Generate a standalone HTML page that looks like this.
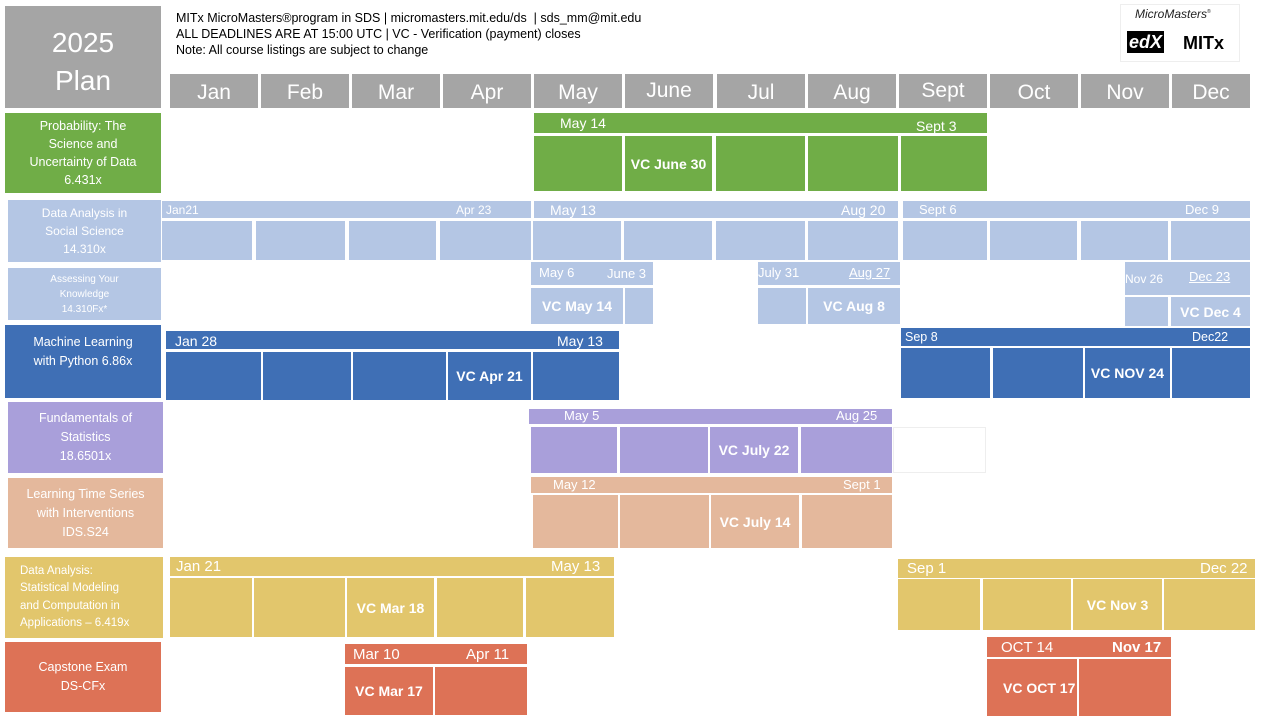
<!DOCTYPE html>
<html><head><meta charset="utf-8"><style>
body{margin:0;width:1280px;height:720px;background:#fff;position:relative;overflow:hidden;font-family:"Liberation Sans",sans-serif;}
div{position:absolute;box-sizing:border-box;}
.m{background:#a5a5a5;color:#fff;font-size:21px;text-align:center;top:74px;height:34px;width:88px;line-height:38px;}
.l{color:#fff;font-size:12.5px;text-align:center;display:flex;align-items:center;justify-content:center;line-height:19px;}
.h{color:#fff;font-size:14px;line-height:18px;}
.h span{position:absolute;}
.c{color:#fff;font-weight:bold;font-size:14px;display:flex;align-items:center;justify-content:center;}
.g{background:#70ad47}.lb{background:#b4c6e4}.bl{background:#3f6fb5}.pu{background:#a99fda}.pe{background:#e4b89c}.ye{background:#e2c66c}.re{background:#dd7256}
</style></head><body>
<div style="left:5px;top:6px;width:156px;height:102px;background:#a5a5a5;color:#fff;font-size:28px;text-align:center;line-height:38px;padding-top:18px">2025<br>Plan</div>
<div style="left:176px;top:10px;font-size:12.5px;line-height:16px;color:#000">MITx MicroMasters®program in SDS | micromasters.mit.edu/ds &nbsp;| sds_mm@mit.edu<br>ALL DEADLINES ARE AT 15:00 UTC | VC - Verification (payment) closes<br>Note: All course listings are subject to change</div>
<div style="left:1120px;top:4px;width:120px;height:58px;border:1px solid #eee"><div style="left:14px;top:2px;font-size:12px;font-style:italic;color:#222">MicroMasters<sup style="font-size:5px">®</sup></div><div style="left:6px;top:26px;background:#000;color:#fff;font-weight:bold;font-style:italic;font-size:18px;padding:0 2px;line-height:22px">edX</div><div style="left:62px;top:28px;font-weight:bold;font-size:18px;color:#000">MITx</div></div>

<div class="m" style="left:170px">Jan</div><div class="m" style="left:261px">Feb</div><div class="m" style="left:352px">Mar</div><div class="m" style="left:443px">Apr</div><div class="m" style="left:534px">May</div><div class="m" style="left:625px;line-height:34px">June</div><div class="m" style="left:717px">Jul</div><div class="m" style="left:808px">Aug</div><div class="m" style="left:899px;line-height:34px">Sept</div><div class="m" style="left:990px">Oct</div><div class="m" style="left:1081px">Nov</div><div class="m" style="left:1172px;width:78px">Dec</div>

<!-- Row1 -->
<div class="l g" style="left:5px;top:113px;width:156px;height:80px;line-height:18px">Probability: The<br>Science and<br>Uncertainty of Data<br>6.431x</div>
<div class="h g" style="left:534px;top:113px;width:453px;height:20px"><span style="left:26px;top:1px">May 14</span><span style="left:382px;top:4px">Sept 3</span></div>
<div class="g" style="left:534px;top:136px;width:88px;height:55px"></div><div class="c g" style="left:625px;top:136px;width:87px;height:55px">VC June 30</div><div class="g" style="left:716px;top:136px;width:89px;height:55px"></div><div class="g" style="left:808px;top:136px;width:90px;height:55px"></div><div class="g" style="left:901px;top:136px;width:86px;height:55px"></div>

<!-- Row2 -->
<div class="l lb" style="left:8px;top:200px;width:153px;height:62px;font-size:12px;line-height:18px">Data Analysis in<br>Social Science<br>14.310x</div>
<div class="h lb" style="left:162px;top:201px;width:369px;height:17px;font-size:12px"><span style="left:4px;top:0">Jan21</span><span style="left:294px;top:0">Apr 23</span></div>
<div class="h lb" style="left:534px;top:201px;width:364px;height:17px"><span style="left:16px;top:0">May 13</span><span style="left:307px;top:0">Aug 20</span></div>
<div class="h lb" style="left:903px;top:201px;width:347px;height:17px;font-size:13px"><span style="left:16px;top:0">Sept 6</span><span style="left:282px;top:0">Dec 9</span></div>
<div class="lb" style="left:162px;top:221px;width:90px;height:39px"></div><div class="lb" style="left:256px;top:221px;width:89px;height:39px"></div><div class="lb" style="left:349px;top:221px;width:87px;height:39px"></div><div class="lb" style="left:440px;top:221px;width:91px;height:39px"></div><div class="lb" style="left:533px;top:221px;width:88px;height:39px"></div><div class="lb" style="left:624px;top:221px;width:88px;height:39px"></div><div class="lb" style="left:716px;top:221px;width:89px;height:39px"></div><div class="lb" style="left:808px;top:221px;width:90px;height:39px"></div><div class="lb" style="left:903px;top:221px;width:84px;height:39px"></div><div class="lb" style="left:990px;top:221px;width:87px;height:39px"></div><div class="lb" style="left:1081px;top:221px;width:87px;height:39px"></div><div class="lb" style="left:1171px;top:221px;width:79px;height:39px"></div>

<!-- Row3 -->
<div class="l lb" style="left:8px;top:268px;width:153px;height:52px;font-size:10px;line-height:15px">Assessing Your<br>Knowledge<br>14.310Fx*</div>
<div class="h lb" style="left:531px;top:262px;width:122px;height:23px;font-size:13px"><span style="left:8px;top:2px">May 6</span><span style="left:76px;top:3px">June 3</span></div>
<div class="c lb" style="left:531px;top:288px;width:92px;height:36px">VC May 14</div><div class="lb" style="left:625px;top:288px;width:28px;height:36px"></div>
<div class="h lb" style="left:758px;top:262px;width:142px;height:23px;font-size:13px"><span style="left:0;top:2px">July 31</span><span style="left:91px;top:2px;text-decoration:underline">Aug 27</span></div>
<div class="lb" style="left:758px;top:288px;width:48px;height:36px"></div><div class="c lb" style="left:808px;top:288px;width:92px;height:36px">VC Aug 8</div>
<div class="h lb" style="left:1125px;top:262px;width:125px;height:33px;font-size:12px"><span style="left:0;top:8px">Nov 26</span><span style="left:64px;top:6px;font-size:13px;text-decoration:underline">Dec 23</span></div>
<div class="lb" style="left:1125px;top:297px;width:43px;height:29px"></div><div class="c lb" style="left:1171px;top:297px;width:79px;height:29px">VC Dec 4</div>

<!-- Row4 -->
<div class="l bl" style="left:5px;top:325px;width:156px;height:73px;align-items:flex-start;padding-top:8px;font-size:12.5px">Machine Learning<br>with Python 6.86x</div>
<div class="h bl" style="left:166px;top:331px;width:453px;height:18px"><span style="left:9px;top:1px">Jan 28</span><span style="left:391px;top:1px">May 13</span></div>
<div class="bl" style="left:166px;top:352px;width:95px;height:48px"></div><div class="bl" style="left:263px;top:352px;width:88px;height:48px"></div><div class="bl" style="left:353px;top:352px;width:93px;height:48px"></div><div class="c bl" style="left:448px;top:352px;width:83px;height:48px">VC Apr 21</div><div class="bl" style="left:533px;top:352px;width:86px;height:48px"></div>
<div class="h bl" style="left:901px;top:328px;width:349px;height:18px;font-size:12.5px"><span style="left:4px;top:0">Sep 8</span><span style="left:291px;top:0">Dec22</span></div>
<div class="bl" style="left:901px;top:348px;width:89px;height:50px"></div><div class="bl" style="left:993px;top:348px;width:90px;height:50px"></div><div class="c bl" style="left:1085px;top:348px;width:85px;height:50px">VC NOV 24</div><div class="bl" style="left:1172px;top:348px;width:78px;height:50px"></div>

<!-- Row5 -->
<div class="l pu" style="left:8px;top:402px;width:155px;height:71px">Fundamentals of<br>Statistics<br>18.6501x</div>
<div class="h pu" style="left:529px;top:409px;width:363px;height:15px;font-size:13px;line-height:14px"><span style="left:35px;top:0">May 5</span><span style="left:307px;top:0">Aug 25</span></div>
<div class="pu" style="left:531px;top:427px;width:86px;height:46px"></div><div class="pu" style="left:620px;top:427px;width:88px;height:46px"></div><div class="c pu" style="left:710px;top:427px;width:88px;height:46px">VC July 22</div><div class="pu" style="left:801px;top:427px;width:91px;height:46px"></div>
<div style="left:893px;top:427px;width:93px;height:46px;border:1px solid #eee"></div>

<!-- Row6 -->
<div class="l pe" style="left:8px;top:478px;width:155px;height:70px">Learning Time Series<br>with Interventions<br>IDS.S24</div>
<div class="h pe" style="left:531px;top:477px;width:361px;height:16px;font-size:13px;line-height:15px"><span style="left:22px;top:0">May 12</span><span style="left:312px;top:0">Sept 1</span></div>
<div class="pe" style="left:533px;top:495px;width:85px;height:53px"></div><div class="pe" style="left:620px;top:495px;width:89px;height:53px"></div><div class="c pe" style="left:711px;top:495px;width:88px;height:53px">VC July 14</div><div class="pe" style="left:802px;top:495px;width:90px;height:53px"></div>

<!-- Row7 -->
<div class="l ye" style="left:5px;top:557px;width:158px;height:81px;justify-content:flex-start;text-align:left;padding-left:15px;font-size:11.5px;line-height:17.5px">Data Analysis:<br>Statistical Modeling<br>and Computation in<br>Applications – 6.419x</div>
<div class="h ye" style="left:170px;top:557px;width:444px;height:19px;font-size:15px"><span style="left:6px;top:1px">Jan 21</span><span style="left:381px;top:1px">May 13</span></div>
<div class="ye" style="left:170px;top:578px;width:82px;height:59px"></div><div class="ye" style="left:254px;top:578px;width:91px;height:59px"></div><div class="c ye" style="left:347px;top:578px;width:87px;height:59px">VC Mar 18</div><div class="ye" style="left:437px;top:578px;width:86px;height:59px"></div><div class="ye" style="left:526px;top:578px;width:88px;height:59px"></div>
<div class="h ye" style="left:898px;top:559px;width:357px;height:19px;font-size:15px"><span style="left:9px;top:1px">Sep 1</span><span style="left:302px;top:1px">Dec 22</span></div>
<div class="ye" style="left:898px;top:579px;width:82px;height:51px"></div><div class="ye" style="left:983px;top:579px;width:88px;height:51px"></div><div class="c ye" style="left:1073px;top:579px;width:89px;height:51px">VC Nov 3</div><div class="ye" style="left:1164px;top:579px;width:91px;height:51px"></div>

<!-- Row8 -->
<div class="l re" style="left:5px;top:642px;width:156px;height:70px">Capstone Exam<br>DS-CFx</div>
<div class="h re" style="left:345px;top:644px;width:182px;height:20px;font-size:15px"><span style="left:8px;top:2px">Mar 10</span><span style="left:121px;top:2px">Apr 11</span></div>
<div class="c re" style="left:345px;top:667px;width:88px;height:48px">VC Mar 17</div><div class="re" style="left:435px;top:667px;width:92px;height:48px"></div>
<div class="h re" style="left:987px;top:637px;width:184px;height:20px;font-size:15px;font-weight:bold"><span style="left:14px;top:2px;font-weight:normal">OCT 14</span><span style="left:125px;top:2px">Nov 17</span></div>
<div class="c re" style="left:987px;top:659px;width:90px;height:57px;justify-content:flex-start;padding-left:16px">VC OCT 17</div><div class="re" style="left:1079px;top:659px;width:92px;height:57px"></div>
</body></html>
